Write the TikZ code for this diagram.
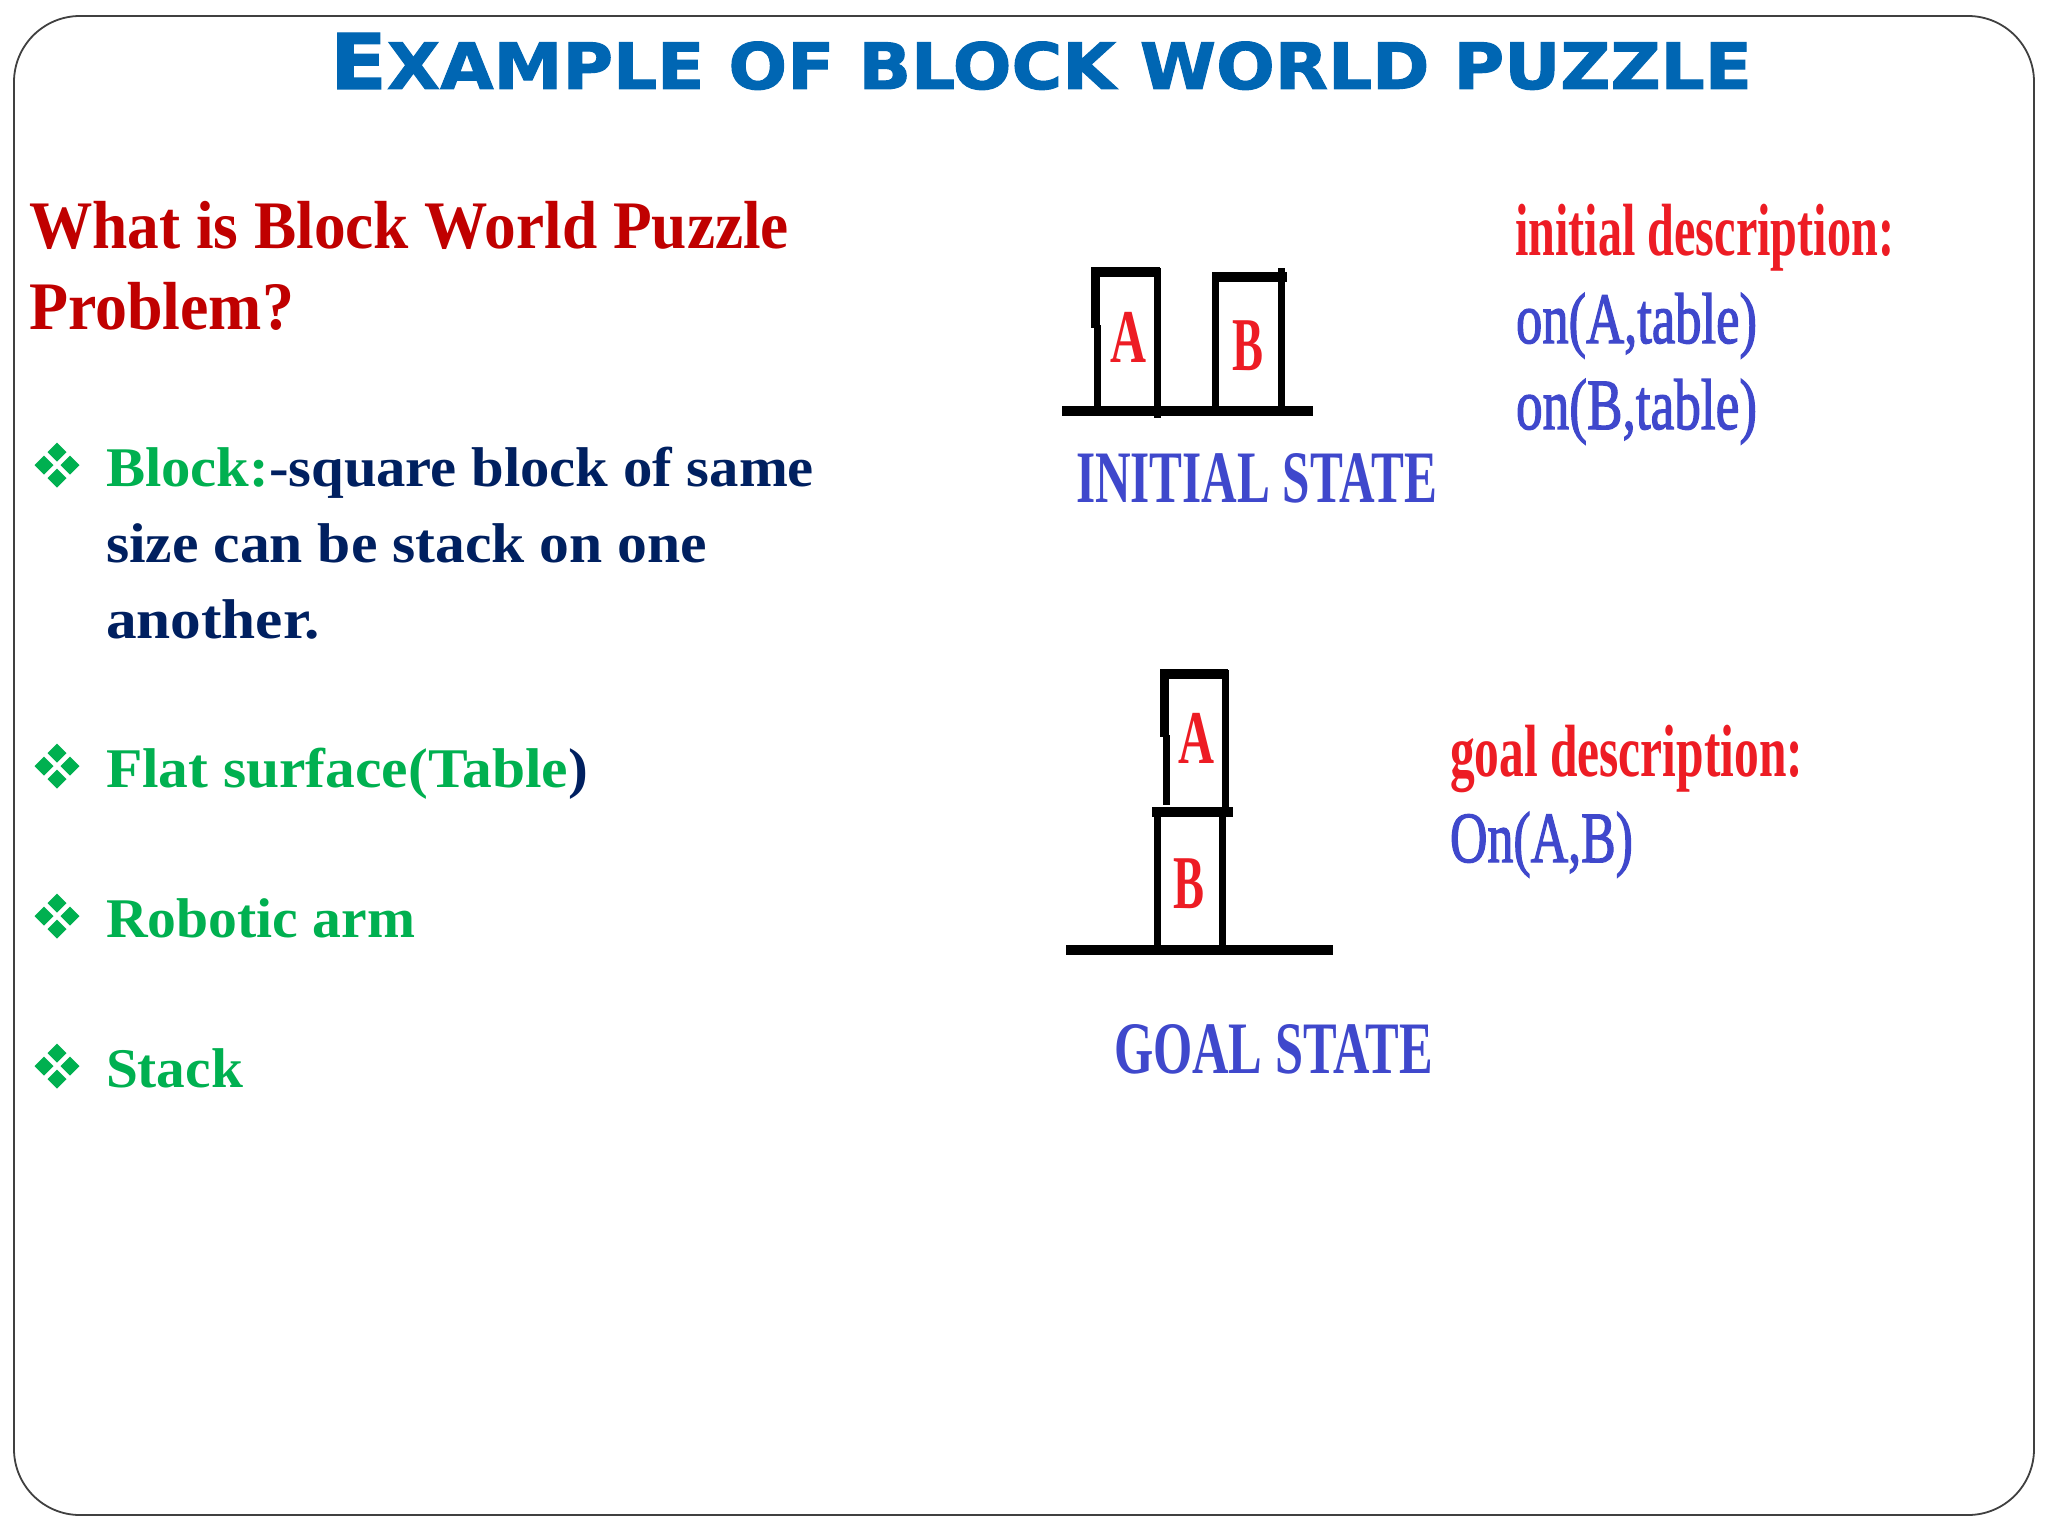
\documentclass[tikz,border=0pt]{standalone}
\usepackage{graphicx}
\usepackage{fontspec}
\setmainfont{Liberation Serif}
\newfontfamily\titlefont[FakeBold=1.5]{DejaVu Sans}
\newfontfamily\semifont[FakeBold=2]{Liberation Serif}
\definecolor{titleblue}{HTML}{0066B3}
\definecolor{headred}{HTML}{C00000}
\definecolor{bulgreen}{HTML}{00B050}
\definecolor{navy}{HTML}{002060}
\definecolor{imgred}{HTML}{ED1C24}
\definecolor{imgblue}{HTML}{3F48CC}
\newlength\pxu
\setlength\pxu{0.5pt}
\newcommand\fitw[2]{\resizebox{#1\pxu}{\height}{#2}}
\newcommand\sz[1]{\fontsize{#1pt}{#1pt}\selectfont}
\tikzset{
  txt/.style={anchor=base west,inner sep=0pt,outer sep=0pt},
  head/.style={txt,text=headred,font=\bfseries\sz{34}},
  body/.style={txt,text=navy,font=\bfseries\sz{28}},
  item/.style={txt,text=bulgreen,font=\bfseries\sz{28}},
  imgr/.style={txt,text=imgred,font=\bfseries\sz{37}},
  imgb/.style={txt,text=imgblue,font=\semifont\sz{36}},
  lab/.style={txt,text=imgred,font=\bfseries\sz{38}},
  state/.style={txt,text=imgblue,font=\bfseries\sz{37}},
  thin side/.style={draw=black,line width=3.5pt,line cap=butt},
  thick bar/.style={draw=black,line width=5pt,line cap=butt},
  bul/.pic={
    \foreach \dx/\dy in {0/-13,0/13,-13/0,13/0}{
      \fill[bulgreen] (\dx-9.5,\dy) -- (\dx,\dy-9.5) -- (\dx+9.5,\dy) -- (\dx,\dy+9.5) -- cycle;
    }
  }
}
\begin{document}
\begin{tikzpicture}[x=0.5pt,y=-0.5pt]
\useasboundingbox (0,0) rectangle (2048,1536);
\fill[white] (0,0) rectangle (2048,1536);
\draw[draw=black!75,line width=0.9pt,rounded corners=33pt] (14,16) rectangle (2034,1515);

% title
\node[txt,text=titleblue,font=\titlefont\bfseries] (title) at (330,89)
  {\fitw{1422}{{\sz{38.5}E}{\sz{32}XAMPLE OF BLOCK WORLD PUZZLE}}};

% left column
\node[head] (h1) at (29,248) {\fitw{760}{What is Block World Puzzle}};
\node[head] (h2) at (29,329) {\fitw{265}{Problem?}};

\pic at (57,465) {bul};
\pic at (57,766) {bul};
\pic at (57,916) {bul};
\pic at (57,1066) {bul};

\node[body] (b1) at (106,486) {\fitw{708}{\textcolor{bulgreen}{Block:}-square block of same}};
\node[body] (b2) at (106,562) {\fitw{601}{size can be stack on one}};
\node[body] (b3) at (106,638) {\fitw{214}{another.}};
\node[item] (b4) at (106,787) {\fitw{482}{Flat surface(Table\textcolor{navy}{)}}};
\node[item] (b5) at (106,937) {\fitw{309}{Robotic arm}};
\node[item] (b6) at (106,1087) {\fitw{137}{Stack}};

% initial state
\draw[thin side] (1097,325) -- (1097,410);
\draw[draw=black,line width=4.5pt] (1095,272) -- (1095,328);
\draw[thin side] (1157,268) -- (1157,418);
\draw[thick bar] (1091,272) -- (1160,272);
\draw[thin side] (1215,273) -- (1215,410);
\draw[thin side] (1281,268) -- (1281,410);
\draw[thick bar] (1212,277) -- (1287,277);
\draw[thick bar] (1062,411) -- (1313,411);

\node[lab] (ia) at (1110,362) {\fitw{36}{A}};
\node[lab] (ib) at (1232,370) {\fitw{31}{B}};
\node[state] (is) at (1076,502) {\fitw{361}{INITIAL STATE}};
\node[imgr] (id) at (1515,255) {\fitw{379}{initial description:}};
\node[imgb] (oa) at (1516,343) {\fitw{241}{on(A,table)}};
\node[imgb] (ob) at (1516,429) {\fitw{241}{on(B,table)}};

% goal state
\draw[thin side] (1166,735) -- (1166,805);
\draw[draw=black,line width=4.5pt] (1164,674) -- (1164,737);
\draw[thin side] (1225,670) -- (1225,810);
\draw[thick bar] (1160,674) -- (1228,674);
\draw[thick bar] (1152,812) -- (1233,812);
\draw[thin side] (1157,811) -- (1157,950);
\draw[thin side] (1222,811) -- (1222,950);
\draw[thick bar] (1066,950) -- (1333,950);

\node[lab] (ga) at (1178,763) {\fitw{36}{A}};
\node[lab] (gb) at (1173,908) {\fitw{31}{B}};
\node[state] (gs) at (1114,1073) {\fitw{319}{GOAL STATE}};
\node[imgr] (gd) at (1450,776) {\fitw{353}{goal description:}};
\node[imgb] (go) at (1450,862) {\fitw{183}{On(A,B)}};
\end{tikzpicture}
\end{document}
